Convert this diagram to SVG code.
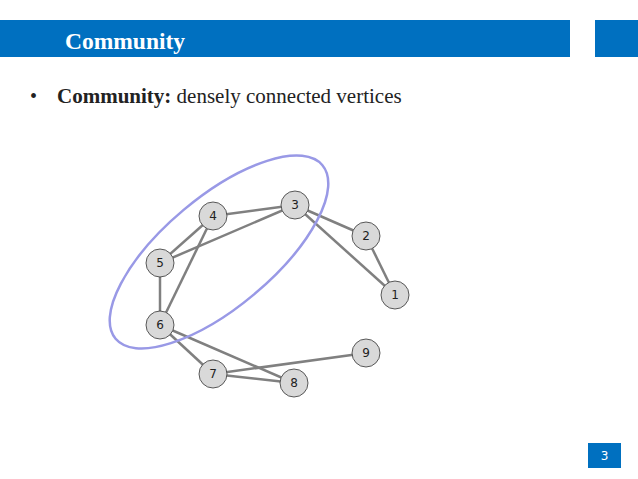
<svg xmlns="http://www.w3.org/2000/svg" width="638" height="479" viewBox="0 0 638 479">
<style>
.edge{stroke:#808080;stroke-width:2.5;fill:none}
.node circle{fill:#d9d9d9;stroke:#333;stroke-width:0.8}
.node text{font-family:"DejaVu Sans",sans-serif;font-size:12px;fill:#222;text-anchor:middle;dominant-baseline:central}
</style>
<rect width="638" height="479" fill="#fff"/>
<g id="header">
<rect x="0" y="20" width="570" height="37" fill="#0070c0"/>
<rect x="595" y="20" width="43" height="37" fill="#0070c0"/>
<text x="65" y="49" font-family="Liberation Serif,serif" font-weight="bold" font-size="23.5" fill="#fff">Community</text>
</g>
<g id="bullet">
<text x="30" y="103" font-family="Liberation Serif,serif" font-size="20" fill="#222">•</text>
<text x="57" y="103" font-family="Liberation Serif,serif" font-size="21" fill="#222"><tspan font-weight="bold">Community:</tspan> densely connected vertices</text>
</g>
<g id="connectors">
<line class="edge" x1="295" y1="205" x2="213" y2="216"/>
<line class="edge" x1="295" y1="205" x2="160" y2="263"/>
<line class="edge" x1="295" y1="205" x2="366" y2="236"/>
<line class="edge" x1="295" y1="205" x2="395" y2="295"/>
<line class="edge" x1="366" y1="236" x2="395" y2="295"/>
<line class="edge" x1="213" y1="216" x2="160" y2="263"/>
<line class="edge" x1="213" y1="216" x2="160" y2="325"/>
<line class="edge" x1="160" y1="263" x2="160" y2="325"/>
<line class="edge" x1="160" y1="325" x2="213" y2="374"/>
<line class="edge" x1="160" y1="325" x2="294" y2="383"/>
<line class="edge" x1="213" y1="374" x2="294" y2="383"/>
<line class="edge" x1="213" y1="374" x2="366" y2="353"/>
</g>
<g id="community">
<ellipse cx="219" cy="252" rx="135" ry="55" transform="rotate(-40 219 252)" fill="none" stroke="#9999e6" stroke-width="2.5"/>
</g>
<g id="n1" class="node"><circle cx="395" cy="295" r="14"/><text x="395" y="295">1</text></g>
<g id="n2" class="node"><circle cx="366" cy="236" r="14"/><text x="366" y="236">2</text></g>
<g id="n3" class="node"><circle cx="295" cy="205" r="14"/><text x="295" y="205">3</text></g>
<g id="n4" class="node"><circle cx="213" cy="216" r="14"/><text x="213" y="216">4</text></g>
<g id="n5" class="node"><circle cx="160" cy="263" r="14"/><text x="160" y="263">5</text></g>
<g id="n6" class="node"><circle cx="160" cy="325" r="14"/><text x="160" y="325">6</text></g>
<g id="n7" class="node"><circle cx="213" cy="374" r="14"/><text x="213" y="374">7</text></g>
<g id="n8" class="node"><circle cx="294" cy="383" r="14"/><text x="294" y="383">8</text></g>
<g id="n9" class="node"><circle cx="366" cy="353" r="14"/><text x="366" y="353">9</text></g>
<g id="page">
<rect x="588" y="443" width="33" height="25" fill="#0070c0"/>
<text x="604.5" y="460" font-family="DejaVu Sans,sans-serif" font-size="12" fill="#fff" text-anchor="middle">3</text>
</g>
</svg>
